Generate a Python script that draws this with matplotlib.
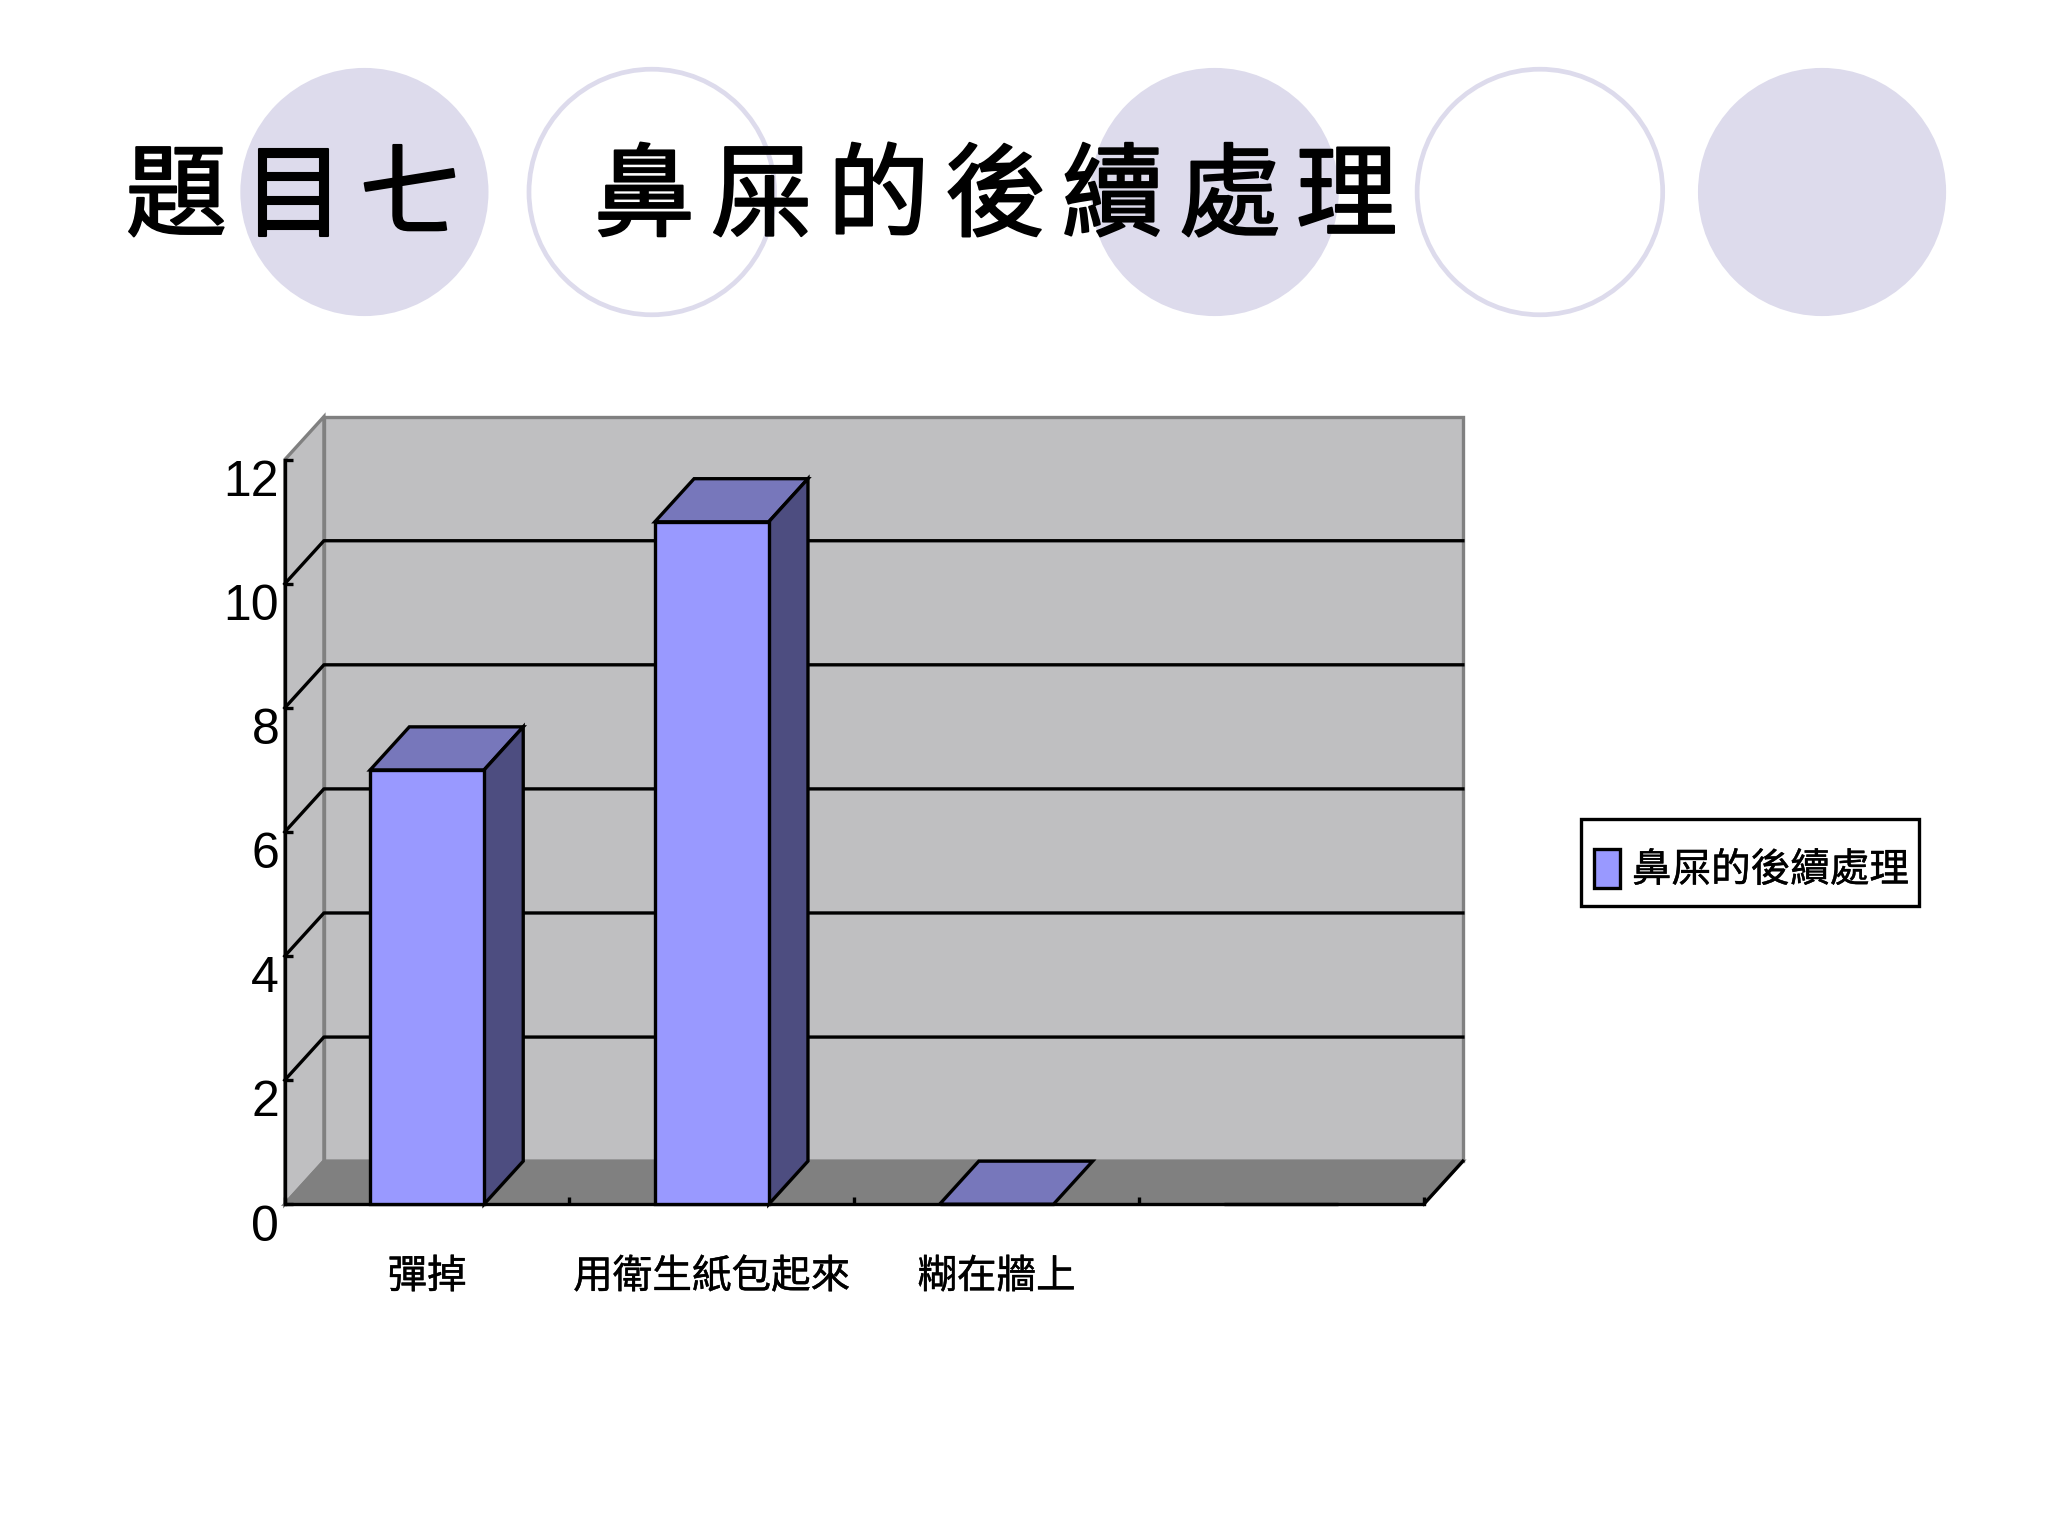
import matplotlib
matplotlib.use('Agg')
import matplotlib.pyplot as plt
import matplotlib.patheffects as pe
from matplotlib.patches import Circle, Polygon, Patch, Rectangle
from matplotlib.legend_handler import HandlerPatch
from matplotlib.transforms import ScaledTranslation

plt.rcParams['font.family'] = ['Noto Sans CJK TC', 'DejaVu Sans']

categories = ['彈掉', '用衛生紙包起來', '糊在牆上', '']
values = [7, 11, 0, 0]
y_ticks = [0, 2, 4, 6, 8, 10, 12]
series_name = '鼻屎的後續處理'
title_chars = ['題', '目', '七', '', '鼻', '屎', '的', '後', '續', '處', '理']

wall_color = '#BFBFC1'
wall_edge = '#808080'
floor_color = '#808080'
bar_front = '#9999FF'
bar_top = '#7777BB'
bar_side = '#4D4D80'
deco = '#DDDBEC'

# picture was measured on a 1568 wide view
W, H = 1568, 1176
S = 2048 / W

fig = plt.figure(figsize=(20.48, 15.36), dpi=100, facecolor='white')

# slide background, circles and title
bg = fig.add_axes([0, 0, 1, 1], zorder=0)
bg.set_xlim(0, W)
bg.set_ylim(H, 0)
bg.axis('off')
for cx in [279, 930, 1395]:
    bg.add_patch(Circle((cx, 147), 95, facecolor=deco, edgecolor='none'))
for cx in [499, 1179]:
    bg.add_patch(Circle((cx, 147), 94, facecolor='none', edgecolor=deco, linewidth=3.4))
for i, ch in enumerate(title_chars):
    bg.text(135 + i * 89.6, 152, ch, fontsize=73, ha='center', va='center', color='black',
            path_effects=[pe.withStroke(linewidth=1.5, foreground='black')])

# chart, front plane of the 3d box
ax = fig.add_axes([218 / W, 1 - 922 / H, 872 / W, 570 / H], zorder=1)
ax.patch.set_visible(False)
ax.set_xlim(0, len(categories))
ax.set_ylim(0, 12)

# depth of the box, in data units
dx = 30 / 218
dy = 33 / (570 / 12)
nx = len(categories)
lw = 2.4
thick = [pe.withStroke(linewidth=0.3, foreground='black')]

ax.add_patch(Polygon([(dx, dy), (nx + dx, dy), (nx + dx, 12 + dy), (dx, 12 + dy)],
                     facecolor=wall_color, edgecolor=wall_edge, lw=lw, clip_on=False, zorder=1))
ax.add_patch(Polygon([(0, 0), (dx, dy), (dx, 12 + dy), (0, 12)],
                     facecolor=wall_color, edgecolor=wall_edge, lw=lw, clip_on=False, zorder=1))
ax.add_patch(Polygon([(0, 0), (nx, 0), (nx + dx, dy), (dx, dy)],
                     facecolor=floor_color, edgecolor=floor_color, lw=lw, clip_on=False, zorder=1))
ax.plot([nx, nx + dx], [0, dy], color='black', lw=lw, clip_on=False, zorder=2)

for t in y_ticks[1:-1]:
    ax.plot([0, dx, nx + dx], [t, t + dy, t + dy], color='black', lw=lw,
            clip_on=False, zorder=2)

# bars
pos = [i + 0.5 for i in range(len(categories))]
width = 0.4
ax.bar(pos, values, width=width, color=bar_front, edgecolor='black', linewidth=lw,
       zorder=5, clip_on=False)
for x, v in zip(pos[:3], values[:3]):
    l, r = x - width / 2, x + width / 2
    ax.add_patch(Polygon([(l, v), (r, v), (r + dx, v + dy), (l + dx, v + dy)],
                         facecolor=bar_top, edgecolor='black', lw=lw, clip_on=False,
                         joinstyle='miter', zorder=4))
    if v > 0:
        ax.add_patch(Polygon([(r, 0), (r + dx, dy), (r + dx, v + dy), (r, v)],
                             facecolor=bar_side, edgecolor='black', lw=lw, clip_on=False,
                             joinstyle='miter', zorder=4))

# axes
for s in ['top', 'right']:
    ax.spines[s].set_visible(False)
for s in ['left', 'bottom']:
    ax.spines[s].set_linewidth(lw)
    ax.spines[s].set_zorder(3)

ax.set_yticks(y_ticks)
ax.set_yticklabels([str(t) for t in y_ticks], fontsize=36, family=['Liberation Sans'])
ax.tick_params(axis='y', direction='in', length=6, width=lw, pad=4)
shift = ScaledTranslation(0, -14 * S / 100, fig.dpi_scale_trans)
for lab in ax.get_yticklabels():
    lab.set_transform(lab.get_transform() + shift)

ax.set_xticks(range(nx + 1))
ax.set_xticklabels([])
ax.set_xticks(pos, minor=True)
ax.set_xticklabels(categories, minor=True, fontsize=28.5)
ax.tick_params(axis='x', which='major', direction='in', length=5, width=lw)
ax.tick_params(axis='x', which='minor', length=0, pad=38)
for lab in ax.get_xticklabels(minor=True):
    lab.set_path_effects(thick)


def small_box(legend, orig_handle, xdescent, ydescent, width, height, fontsize):
    return Rectangle((-xdescent + 2, height / 2 - ydescent - 18.5), width, 28)


# legend
leg = fig.legend(handles=[Patch(facecolor=bar_front, edgecolor='black', linewidth=lw, label=series_name)],
                 loc='center', bbox_to_anchor=(1340 / W, 1 - 660.5 / H), fontsize=28.5,
                 frameon=True, fancybox=False, edgecolor='black', framealpha=1,
                 handlelength=0.67, handleheight=2.22, handletextpad=0.36, borderpad=0.25,
                 handler_map={Patch: HandlerPatch(patch_func=small_box)})
leg.get_frame().set_linewidth(lw)
leg.set_zorder(6)
for txt in leg.get_texts():
    txt.set_path_effects(thick)
    txt.set_position((0, -6.5))

fig.savefig('out.png', dpi=100)
